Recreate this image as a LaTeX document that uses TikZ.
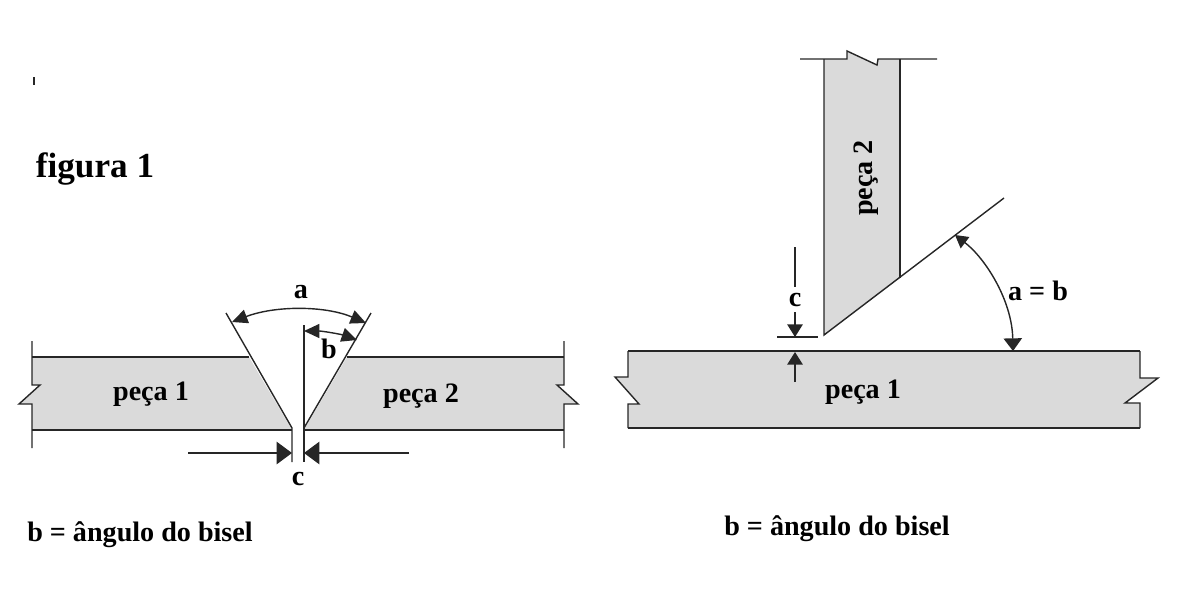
\documentclass[tikz,border=0pt]{standalone}
\usepackage{fontspec}
\setmainfont{Liberation Serif}
\usetikzlibrary{arrows.meta}
\definecolor{pecagray}{HTML}{DADADA}
\tikzset{
    thickline/.style={line width=1.5pt, black!85},
    thinline/.style={line width=1pt, black!85},
    dimline/.style={line width=1pt, black!85, {Triangle[length=11pt,width=10pt]}-{Triangle[length=11pt,width=10pt]}},
    onetip/.style={line width=1pt, black!85, -{Triangle[length=9pt,width=11pt]}},
    bigtip/.style={line width=1.2pt, black!85, -{Triangle[length=11pt,width=16pt]}},
    lbl/.style={inner sep=0pt, font=\bfseries\fontsize{20}{20}\selectfont},
    biglbl/.style={inner sep=0pt, font=\bfseries\fontsize{25}{25}\selectfont}
}
\begin{document}
\begin{tikzpicture}[x=0.025cm, y=-0.025cm]
            \useasboundingbox (0,0) rectangle (1181,600);

            \fill [pecagray] (32,357) -- (249,357) -- (292,430) -- (32,430) -- (32,404) -- (19,404) -- (40,385) -- (32,385) -- cycle;
            \fill [pecagray] (347,357) -- (564,357) -- (564,385) -- (557,385) -- (578,404) -- (564,404) -- (564,430) -- (304,430) -- cycle;
            \fill [pecagray] (628,351) -- (1140,351) -- (1140,378) -- (1158,378) -- (1125,403) -- (1140,403) -- (1140,428) -- (628,428) -- (628,404) -- (639,404) -- (615,377) -- (628,377) -- cycle;
            \fill [pecagray] (824,59) -- (847,59) -- (847,51) -- (877,65) -- (878,59) -- (900,59) -- (900,278) -- (824,335) -- cycle;

            \draw [thinline] (32,341) -- (32,385) -- (40,385) -- (19,404) -- (32,404) -- (32,448);
            \draw [thinline] (564,341) -- (564,385) -- (557,385) -- (578,404) -- (564,404) -- (564,448);
            \draw [thickline] (32,357) -- (249,357);
            \draw [thickline] (32,430) -- (292,430);
            \draw [thickline] (347,357) -- (564,357);
            \draw [thickline] (304,430) -- (564,430);
            \draw [thinline] (226,313) -- (292,428) -- (292,462);
            \draw [thinline] (371,313) -- (304,428);
            \draw [thinline] (304,325) -- (304,462);

            \coordinate (gapleft) at (292,453);
            \coordinate (gapright) at (304,453);
            \coordinate (dimleft) at (188,453);
            \coordinate (dimright) at (409,453);
            \draw [bigtip] (dimleft) -- (gapleft);
            \draw [bigtip] (dimright) -- (gapright);

            \coordinate (aleft) at (232,322);
            \coordinate (aright) at (366,323);
            \coordinate (bleft) at (304,331);
            \coordinate (bright) at (357,340);
            \draw [dimline] (aleft) .. controls (275,305.5) and (325,305.5) .. (aright);
            \draw [dimline] (bleft) .. controls (322,331) and (340,334) .. (bright);

            \draw [thickline] (628,351) -- (1140,351);
            \draw [thickline] (628,428) -- (1140,428);
            \draw [thinline] (628,351) -- (628,377) -- (615,377) -- (639,404) -- (628,404) -- (628,428);
            \draw [thinline] (1140,351) -- (1140,378) -- (1158,378) -- (1125,403) -- (1140,403) -- (1140,428);
            \draw [thinline] (800,59) -- (847,59) -- (847,51) -- (877,65) -- (878,59) -- (937,59);
            \draw [thinline] (824,59) -- (824,335) -- (1004,198);
            \draw [thinline] (900,59) -- (900,278);

            \coordinate (ctick) at (795,337);
            \coordinate (ctop) at (795,247);
            \coordinate (cplate) at (795,352);
            \coordinate (cbottom) at (795,382);
            \draw [thinline] (777,337) -- (818,337);
            \draw [onetip] (cbottom) -- (cplate);

            \coordinate (angtop) at (955,235);
            \coordinate (angbottom) at (1013,351);
            \draw [line width=1pt, black!85, {Triangle[length=9pt,width=10pt]}-{Triangle[length=9pt,width=13pt]}] (angtop) .. controls (985,258) and (1012,300) .. (angbottom);

            \node [lbl] (la) at (301,292) {a};
            \node [lbl] (lb) at (329,349) {b};
            \node [lbl] (lc) at (298,479) {c};
            \node [lbl] (peca1l) at (151,394) {peça 1};
            \node [lbl] (peca2l) at (421,396) {peça 2};
            \node [lbl] (bisell) at (140,535) {b = ângulo do bisel};
            \node [biglbl] (fig) at (95,169) {figura 1};

            \node [lbl] (lcr) at (795,300) {c};
            \draw [thinline] (ctop) -- (795,287);
            \draw [onetip] (795,312) -- (ctick);
            \node [lbl, rotate=90] (peca2r) at (866,178) {peça 2};
            \node [lbl] (peca1r) at (863,392) {peça 1};
            \node [lbl] (ab) at (1038,291) {a = b};
            \node [lbl] (biselr) at (837,529) {b = ângulo do bisel};

            \draw [thinline] (34,77) -- (34,85);
        \end{tikzpicture}
\end{document}
